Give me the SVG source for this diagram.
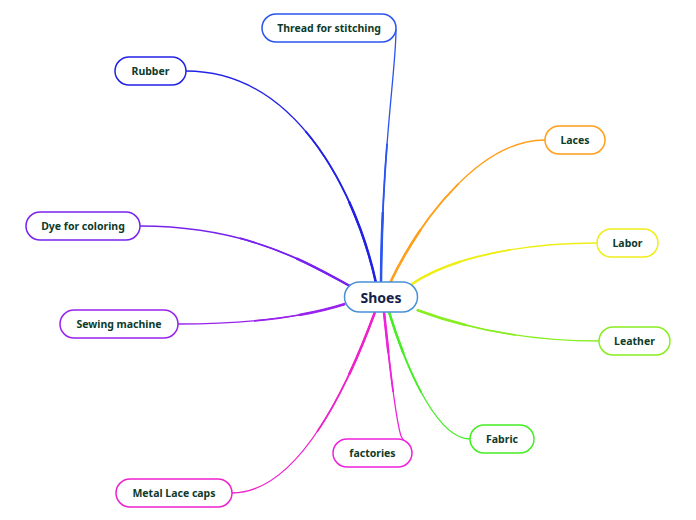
<svg xmlns="http://www.w3.org/2000/svg" width="696" height="520" viewBox="0 0 696 520">
<style>
.n rect{fill:#fff;stroke-width:1.5}
.n text{font-family:"Noto Sans","Open Sans",sans-serif;font-size:10.5px;font-weight:bold;fill:#0e3b2a;text-anchor:middle;dominant-baseline:central}
#links path{fill:none}
#links .a{stroke-width:1.3;stroke-linecap:round}
#links .b{stroke-width:1.8;stroke-dasharray:0 45 55}
#links .c{stroke-width:2.5;stroke-dasharray:0 72 28}
</style>
<rect width="696" height="520" fill="#fff"/>
<g id="links">
<g stroke="#2a55f0"><path class="a" pathLength="100" d="M396,30 C396,70 382,150 381,283"/><path class="b" pathLength="100" d="M396,30 C396,70 382,150 381,283"/><path class="c" pathLength="100" d="M396,30 C396,70 382,150 381,283"/></g>
<g stroke="#2222e6"><path class="a" pathLength="100" d="M186,71 C300,71 358,200 376,283"/><path class="b" pathLength="100" d="M186,71 C300,71 358,200 376,283"/><path class="c" pathLength="100" d="M186,71 C300,71 358,200 376,283"/></g>
<g stroke="#ff9f1a"><path class="a" pathLength="100" d="M545,140 C480,140 420,220 390,283"/><path class="b" pathLength="100" d="M545,140 C480,140 420,220 390,283"/><path class="c" pathLength="100" d="M545,140 C480,140 420,220 390,283"/></g>
<g stroke="#eeee1a"><path class="a" pathLength="100" d="M597,243 C520,243 450,258 412,284"/><path class="b" pathLength="100" d="M597,243 C520,243 450,258 412,284"/><path class="c" pathLength="100" d="M597,243 C520,243 450,258 412,284"/></g>
<g stroke="#88ee22"><path class="a" pathLength="100" d="M599,341 C520,341 460,326 417,310"/><path class="b" pathLength="100" d="M599,341 C520,341 460,326 417,310"/><path class="c" pathLength="100" d="M599,341 C520,341 460,326 417,310"/></g>
<g stroke="#44ee22"><path class="a" pathLength="100" d="M470,439 C440,439 410,380 389,312"/><path class="b" pathLength="100" d="M470,439 C440,439 410,380 389,312"/><path class="c" pathLength="100" d="M470,439 C440,439 410,380 389,312"/></g>
<g stroke="#ee22dd"><path class="a" pathLength="100" d="M411,454 Q408,448 401,436 C396,420 390,370 384,312"/><path class="b" pathLength="100" d="M411,454 Q408,448 401,436 C396,420 390,370 384,312"/><path class="c" pathLength="100" d="M411,454 Q408,448 401,436 C396,420 390,370 384,312"/></g>
<g stroke="#ee22cc"><path class="a" pathLength="100" d="M232,493 C300,493 350,380 375,312"/><path class="b" pathLength="100" d="M232,493 C300,493 350,380 375,312"/><path class="c" pathLength="100" d="M232,493 C300,493 350,380 375,312"/></g>
<g stroke="#9922ee"><path class="a" pathLength="100" d="M178,324 C260,324 310,315 345,304"/><path class="b" pathLength="100" d="M178,324 C260,324 310,315 345,304"/><path class="c" pathLength="100" d="M178,324 C260,324 310,315 345,304"/></g>
<g stroke="#7722ee"><path class="a" pathLength="100" d="M140,226 C250,226 310,265 352,287"/><path class="b" pathLength="100" d="M140,226 C250,226 310,265 352,287"/><path class="c" pathLength="100" d="M140,226 C250,226 310,265 352,287"/></g>
</g>
<g id="shoes" class="n"><rect x="344.5" y="282" width="73" height="30" rx="15" stroke="#4a90d9"/><text x="381" y="297" style="font-size:14px;fill:#14224a">Shoes</text></g>
<g id="thread" class="n"><rect x="262" y="14" width="134" height="28" rx="14" stroke="#2a55f0"/><text x="329" y="28">Thread for stitching</text></g>
<g id="rubber" class="n"><rect x="115" y="57" width="71" height="28" rx="14" stroke="#2222e6"/><text x="150.5" y="71">Rubber</text></g>
<g id="laces" class="n"><rect x="545" y="126" width="60" height="28" rx="14" stroke="#ff9f1a"/><text x="575" y="140">Laces</text></g>
<g id="labor" class="n"><rect x="597" y="229" width="61" height="28" rx="14" stroke="#eeee1a"/><text x="627.5" y="243">Labor</text></g>
<g id="leather" class="n"><rect x="599" y="327" width="71" height="28" rx="14" stroke="#88ee22"/><text x="634.5" y="341">Leather</text></g>
<g id="fabric" class="n"><rect x="470" y="425" width="64" height="28" rx="14" stroke="#44ee22"/><text x="502" y="439">Fabric</text></g>
<g id="factories" class="n"><rect x="333" y="439" width="79" height="28" rx="14" stroke="#ee22dd"/><text x="372.5" y="453">factories</text></g>
<g id="metal" class="n"><rect x="116" y="479" width="116" height="28" rx="14" stroke="#ee22cc"/><text x="174" y="493">Metal Lace caps</text></g>
<g id="sewing" class="n"><rect x="60" y="310" width="118" height="28" rx="14" stroke="#9922ee"/><text x="119" y="324">Sewing machine</text></g>
<g id="dye" class="n"><rect x="26" y="212" width="114" height="28" rx="14" stroke="#7722ee"/><text x="83" y="226">Dye for coloring</text></g>
</svg>
